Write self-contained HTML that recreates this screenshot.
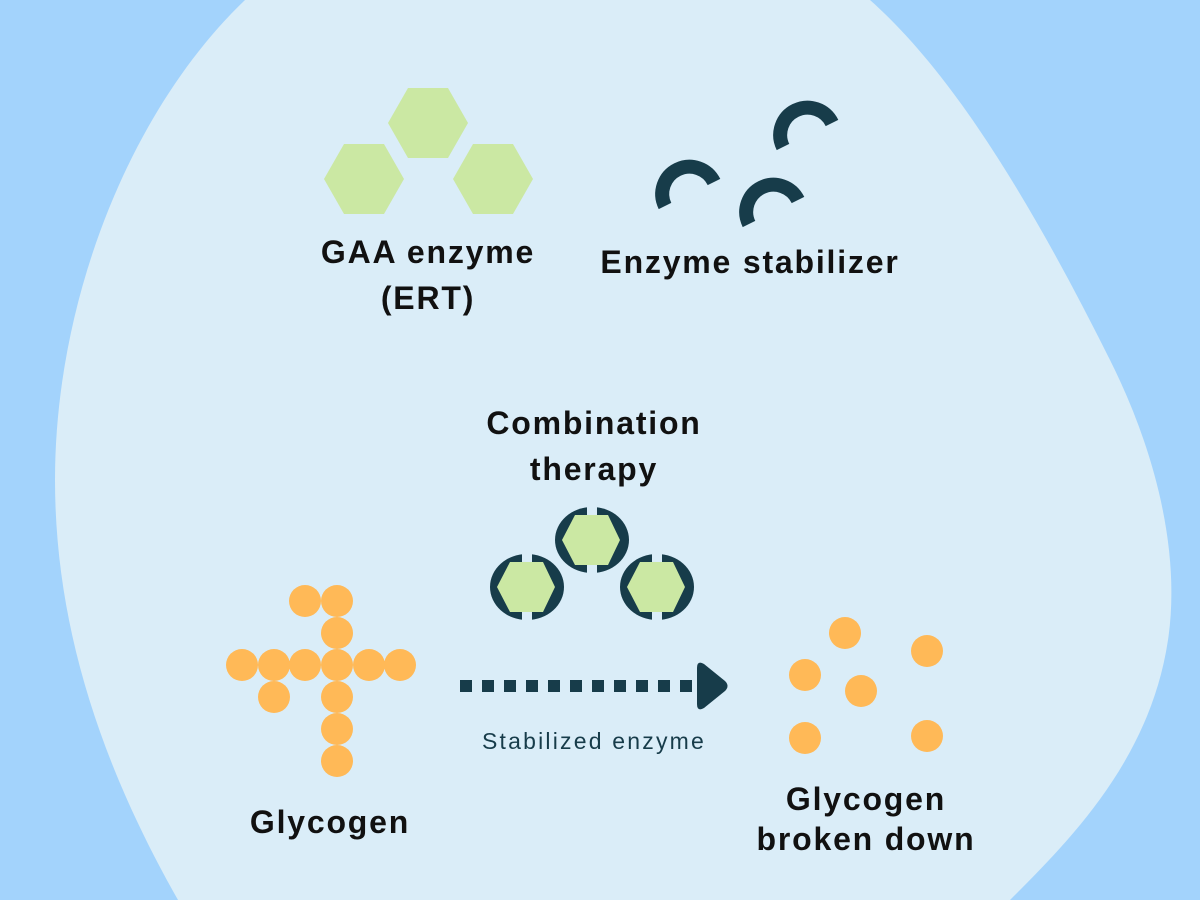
<!DOCTYPE html>
<html><head><meta charset="utf-8"><style>
html,body{margin:0;padding:0;background:#a3d3fc;}
svg{display:block}
text{font-family:"Liberation Sans",sans-serif;font-weight:bold;fill:#111;letter-spacing:1.8px;}
</style></head><body>
<svg width="1200" height="900" viewBox="0 0 1200 900" xmlns="http://www.w3.org/2000/svg">
<rect width="1200" height="900" fill="#a3d3fc"/>
<path d="M245,0 L870,0 C960,80 1040,220 1110,360 C1160,460 1180,560 1168,640 C1150,760 1070,840 1010,900 L178,900 C110,780 55,640 55,480 C55,300 130,110 245,0 Z" fill="#daedf8"/>
<g fill="#cbe8a3">
<polygon points="388,123 408,88 448,88 468,123 448,158 408,158"/>
<polygon points="324,179 344,144 384,144 404,179 384,214 344,214"/>
<polygon points="453,179 473,144 513,144 533,179 513,214 473,214"/>
</g>
<g fill="none" stroke="#173c4a" stroke-width="14">
<path d="M665,206 A27,27 0 1 1 714,182"/>
<path d="M783,147 A27,27 0 1 1 832,123"/>
<path d="M749,224 A27,27 0 1 1 798,200"/>
</g>
<text x="428" y="263" font-size="32" text-anchor="middle">GAA enzyme</text>
<text x="428" y="309" font-size="32" text-anchor="middle">(ERT)</text>
<text x="750" y="273" font-size="32" text-anchor="middle">Enzyme stabilizer</text>
<text x="594" y="434" font-size="32" text-anchor="middle">Combination</text>
<text x="594" y="480" font-size="32" text-anchor="middle">therapy</text>
<g id="c">
<ellipse cx="592" cy="540" rx="37" ry="33" fill="#173c4a"/>
<rect x="587" y="505" width="10" height="12" fill="#daedf8"/>
<rect x="587" y="563" width="10" height="12" fill="#daedf8"/>
<polygon points="562,540 575,515 608,515 620,540 608,565 575,565" fill="#cbe8a3"/>
</g>
<use href="#c" x="-65" y="47"/>
<use href="#c" x="65" y="47"/>
<g fill="#ffb957">
<circle cx="242" cy="665" r="16"/><circle cx="274" cy="665" r="16"/><circle cx="305" cy="665" r="16"/><circle cx="337" cy="665" r="16"/><circle cx="369" cy="665" r="16"/><circle cx="400" cy="665" r="16"/>
<circle cx="305" cy="601" r="16"/><circle cx="337" cy="601" r="16"/><circle cx="337" cy="633" r="16"/>
<circle cx="274" cy="697" r="16"/><circle cx="337" cy="697" r="16"/><circle cx="337" cy="729" r="16"/><circle cx="337" cy="761" r="16"/>
<circle cx="845" cy="633" r="16"/><circle cx="927" cy="651" r="16"/><circle cx="805" cy="675" r="16"/><circle cx="861" cy="691" r="16"/><circle cx="805" cy="738" r="16"/><circle cx="927" cy="736" r="16"/>
</g>
<g fill="#173c4a">
<rect x="460" y="680" width="12" height="12"/><rect x="482" y="680" width="12" height="12"/><rect x="504" y="680" width="12" height="12"/><rect x="526" y="680" width="12" height="12"/><rect x="548" y="680" width="12" height="12"/><rect x="570" y="680" width="12" height="12"/><rect x="592" y="680" width="12" height="12"/><rect x="614" y="680" width="12" height="12"/><rect x="636" y="680" width="12" height="12"/><rect x="658" y="680" width="12" height="12"/><rect x="680" y="680" width="12" height="12"/>
<path d="M697,668 Q697,660 704,664 L725,681 Q730,686 725,691 L704,708 Q697,712 697,704 Z"/>
</g>
<text x="594" y="749" font-size="23" text-anchor="middle" style="font-weight:normal;fill:#173c4a;letter-spacing:2.2px">Stabilized enzyme</text>
<text x="330" y="833" font-size="32" text-anchor="middle">Glycogen</text>
<text x="866" y="810" font-size="32" text-anchor="middle">Glycogen</text>
<text x="866" y="850" font-size="32" text-anchor="middle">broken down</text>
</svg>
</body></html>
